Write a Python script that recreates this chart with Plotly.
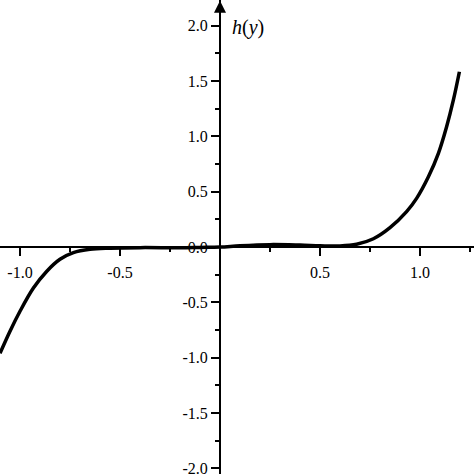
import plotly.graph_objects as go

y_vals = [-1.1, -1.05, -1.0, -0.933, -0.867, -0.8, -0.733, -0.65, -0.55, -0.4, -0.2, -0.1,
          0.0, 0.1, 0.25, 0.4, 0.5, 0.6, 0.683, 0.767, 0.85, 0.933, 0.983, 1.042, 1.092, 1.133,
          1.167, 1.197]
h_vals = [-0.96, -0.76, -0.58, -0.37, -0.22, -0.11, -0.05, -0.02, -0.01, -0.005, -0.006, -0.003,
          0.0, 0.012, 0.022, 0.018, 0.012, 0.01, 0.025, 0.075, 0.175, 0.32, 0.44, 0.635, 0.847, 1.087,
          1.329, 1.584]

x_ticks = [-1.0, -0.5, 0.5, 1.0]
x_labels = ["-1.0", "-0.5", "0.5", "1.0"]
y_ticks = [-2.0, -1.5, -1.0, -0.5, 0.0, 0.5, 1.0, 1.5, 2.0]
y_labels = ["-2.0", "-1.5", "-1.0", "-0.5", "0.0", "0.5", "1.0", "1.5", "2.0"]

x_range = [-1.1, 1.27]
y_range = [-2.05, 2.232]

fig = go.Figure()
fig.add_trace(go.Scatter(x=y_vals, y=h_vals, mode="lines",
                         line=dict(color="black", width=3.5, shape="spline", smoothing=1.0),
                         showlegend=False))

# axes crossing at the origin
x_pos = (0 - y_range[0]) / (y_range[1] - y_range[0])
y_pos = (0 - x_range[0]) / (x_range[1] - x_range[0])

tick_font = dict(family="Liberation Serif, Times New Roman, serif", size=16, color="black")

fig.update_xaxes(range=x_range, anchor="free", position=x_pos, side="bottom",
                 showline=True, linecolor="black", linewidth=2,
                 showgrid=False, zeroline=False, automargin=False,
                 ticks="outside", ticklen=8, tickwidth=1.5, tickcolor="black",
                 tickvals=x_ticks, ticktext=x_labels, tickfont=tick_font,
                 ticklabelstandoff=3, ticklabeloverflow="allow",
                 minor=dict(ticks="outside", dtick=0.25, tick0=0, ticklen=4,
                            tickwidth=1.5, tickcolor="black", showgrid=False))
fig.update_yaxes(range=y_range, anchor="free", position=y_pos, side="left",
                 showline=True, linecolor="black", linewidth=2,
                 showgrid=False, zeroline=False, automargin=False,
                 ticks="outside", ticklen=8, tickwidth=1.5, tickcolor="black",
                 tickvals=y_ticks, ticktext=y_labels, tickfont=tick_font,
                 ticklabeloverflow="allow",
                 minor=dict(ticks="outside", dtick=0.25, tick0=0, ticklen=4,
                            tickwidth=1.5, tickcolor="black", showgrid=False))

# arrow on top of the vertical axis
fig.add_annotation(x=0, y=2.225, xref="x", yref="y", ax=0, ay=22, showarrow=True,
                   arrowhead=2, arrowsize=1.2, arrowwidth=2, arrowcolor="black", text="")
fig.add_annotation(x=0.14, y=1.98, xref="x", yref="y", showarrow=False,
                   text="<i>h</i>(<i>y</i>)",
                   font=dict(family="Liberation Serif, Times New Roman, serif", size=20, color="black"))

fig.update_layout(width=474, height=474, margin=dict(l=0, r=0, t=0, b=0),
                  plot_bgcolor="white", paper_bgcolor="white")

# drop the default page margin so the figure fills the window
fig.write_html("out.html", config={"displayModeBar": False},
               post_script="document.body.style.margin='0';")
